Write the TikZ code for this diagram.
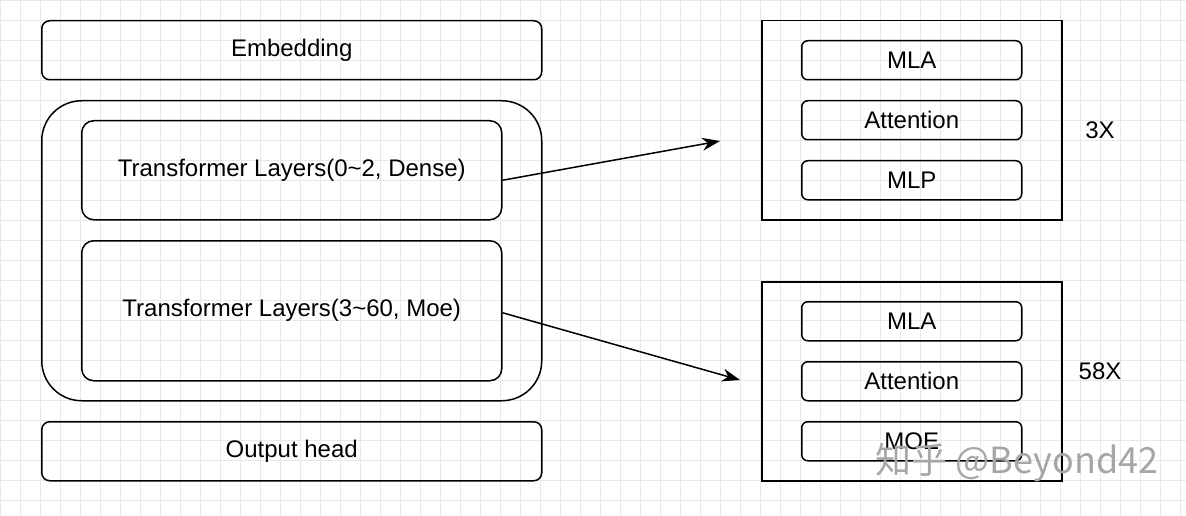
\documentclass[tikz,border=0pt]{standalone}
\usepackage{fontspec}
\setmainfont{Liberation Sans}
\newfontfamily\cjk{Noto Sans CJK SC}
\usetikzlibrary{calc,arrows.meta}
\begin{document}
\begin{tikzpicture}[x=1pt,y=-1pt,
  box/.style={draw,line width=1.5pt,rounded corners=#1,inner sep=0pt,anchor=north west},
  box/.default=8pt,
  lbl/.style={font=\fontsize{24}{26}\selectfont},
  arr/.style={-{Stealth[length=18pt,width=13pt]},line width=1.5pt}]
\useasboundingbox (0,0) rectangle (1186,516);
\fill[white] (0,0) rectangle (1186,516);
\draw[black!9,line width=0.7pt] (0,0) grid[step=20pt] (1186,516);
\node[box, minimum width=500pt, minimum height=59pt, lbl] (emb) at (41,20) {Embedding};
\node[box=40pt, minimum width=500pt, minimum height=300pt] (outer) at (41,100) {};
\node[box=12pt, minimum width=420pt, minimum height=99pt, lbl] (t1) at (81,120) {Transformer Layers(0\textasciitilde 2, Dense)};
\node[box=12pt, minimum width=420pt, minimum height=140pt, lbl] (t2) at (81,240) {Transformer Layers(3\textasciitilde 60, Moe)};
\node[box, minimum width=500pt, minimum height=59pt, lbl] (out) at (41,421) {Output head};
\node[box=0pt, minimum width=300pt, minimum height=199pt] (r1) at (761,20) {};
\node[box=6pt, minimum width=220pt, minimum height=39pt, lbl] (a1) at (801,40) {MLA};
\node[box=6pt, minimum width=220pt, minimum height=39pt, lbl] (b1) at (801,100) {Attention};
\node[box=6pt, minimum width=220pt, minimum height=39pt, lbl] (c1) at (801,160) {MLP};
\node[box=0pt, minimum width=300pt, minimum height=199pt] (r2) at (761,281) {};
\node[box=6pt, minimum width=220pt, minimum height=39pt, lbl] (a2) at (801,301) {MLA};
\node[box=6pt, minimum width=220pt, minimum height=39pt, lbl] (b2) at (801,361) {Attention};
\node[box=6pt, minimum width=220pt, minimum height=39pt, lbl] (c2) at (801,421) {MOE};
\node[lbl] (x3) at (1100,130) {3X};
\node[lbl] (x58) at (1100,371) {58X};
\coordinate (e1) at (720,141);
\coordinate (e2) at (740,380);
\draw[arr] ($(t1.east)+(0,10)$) -- (e1);
\draw[arr] ($(t2.east)+(0,2)$) -- (e2);
\node[font=\cjk\fontsize{36}{38}\selectfont, text=black!35] (wm) at (1017,463) {知乎 @Beyond42};
\end{tikzpicture}
\end{document}
